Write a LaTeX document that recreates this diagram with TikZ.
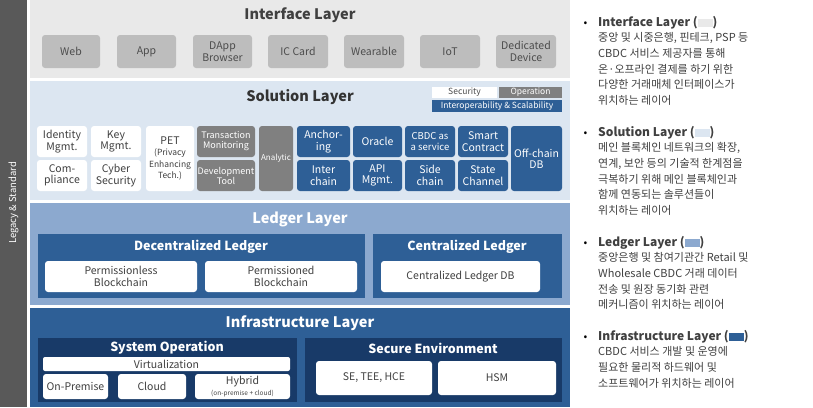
\documentclass[tikz,border=0pt]{standalone}
\usepackage{fontspec}
\setmainfont{Noto Sans CJK KR}
\begin{document}
\begin{tikzpicture}[x=1pt,y=-1pt,
  box/.style={rounded corners=3pt,inner sep=0pt,align=center,font=\fontsize{10.5}{11.5}\selectfont},
  ibtn/.style={box,fill=igray,text=black!70},
  wbtn/.style={box,fill=white,text=black!75},
  gbtn/.style={box,fill=ogray,text=white},
  bbtn/.style={box,fill=iblue,text=white},
  ttl/.style={font=\bfseries\fontsize{14.5}{15}\selectfont},
  sttl/.style={font=\bfseries\fontsize{12.5}{13}\selectfont,text=white},
  rtxt/.style={anchor=north west,align=left,inner sep=0pt,font=\fontsize{11}{15.6}\selectfont,text=black!75}]
\definecolor{igray}{HTML}{BDBDBD}
\definecolor{ibg}{HTML}{E9E9E9}
\definecolor{sbg}{HTML}{DCE6F1}
\definecolor{ogray}{HTML}{808080}
\definecolor{iblue}{HTML}{2E5F96}
\definecolor{lbg}{HTML}{8CA9CF}
\definecolor{dnavy}{HTML}{183A68}
\definecolor{lsb}{HTML}{595959}
\def\bx#1#2#3#4#5#6{\node[#1,minimum width=#4-#2,minimum height=#5-#3] (#6) at ({(#2+#4)/2},{(#3+#5)/2})}
\useasboundingbox (0,0) rectangle (813,407);
\fill[white] (0,0) rectangle (813,407);
% legacy bar
\bx{fill=lsb}{0}{0}{27}{407}{leg} {};
\node[rotate=90,text=white,font=\fontsize{9.5}{10}\selectfont] (legt) at (13.5,203) {Legacy \& Standard};
% interface
\bx{fill=ibg}{30}{0}{570}{78}{ifl} {};
\node[ttl,text=black!75] (ift) at (300,15) {Interface Layer};
\bx{ibtn}{42}{35}{100}{68}{web} {Web};
\bx{ibtn}{117}{35}{176}{68}{app} {App};
\bx{ibtn}{193}{35}{252}{68}{dapp} {DApp\\Browser};
\bx{ibtn}{268}{35}{328}{68}{ic} {IC Card};
\bx{ibtn}{344}{35}{404}{68}{wear} {Wearable};
\bx{ibtn}{420}{35}{480}{68}{iot} {IoT};
\bx{ibtn}{496}{35}{556}{68}{ded} {Dedicated\\Device};
% solution
\bx{fill=sbg}{30}{81}{570}{200}{sol} {};
\node[ttl,text=black!80] (solt) at (300,97) {Solution Layer};
\bx{fill=white,inner sep=0pt,font=\fontsize{8.5}{9}\selectfont,text=black!70}{432}{87}{497}{98}{lsec} {Security};
\bx{fill=ogray,inner sep=0pt,font=\fontsize{8.5}{9}\selectfont,text=white}{499}{87}{562}{98}{lop} {Operation};
\bx{fill=iblue,inner sep=0pt,font=\fontsize{8.5}{9}\selectfont,text=white}{432}{100}{562}{112}{lint} {Interoperability \& Scalability};
\bx{wbtn}{37}{126}{87}{157}{idm} {Identity\\Mgmt.};
\bx{wbtn}{37}{160}{87}{191}{comp} {Com-\\pliance};
\bx{wbtn}{91}{126}{141}{157}{keym} {Key\\Mgmt.};
\bx{wbtn}{91}{160}{141}{191}{cyb} {Cyber\\Security};
\bx{wbtn}{146}{126}{194}{191}{pet} {PET\\\fontsize{8.5}{9.5}\selectfont (Privacy\\\fontsize{8.5}{9.5}\selectfont Enhancing\\\fontsize{8.5}{9.5}\selectfont Tech.)};
\bx{gbtn,font=\fontsize{9}{10}\selectfont}{197}{126}{255}{157}{txm} {Transaction\\Monitoring};
\bx{gbtn,font=\fontsize{9}{10}\selectfont}{197}{160}{255}{191}{dev} {Development\\Tool};
\bx{gbtn,font=\fontsize{8}{9}\selectfont}{259}{126}{293}{191}{ana} {Analytic};
\bx{bbtn}{297}{126}{350}{157}{anc} {Anchor-\\ing};
\bx{bbtn}{297}{160}{350}{191}{inter} {Inter\\chain};
\bx{bbtn}{353}{126}{402}{157}{ora} {Oracle};
\bx{bbtn}{353}{160}{402}{191}{api} {API\\Mgmt.};
\bx{bbtn,font=\fontsize{9.5}{10.5}\selectfont}{405}{126}{455}{157}{caas} {CBDC as\\a service};
\bx{bbtn}{405}{160}{455}{191}{side} {Side\\chain};
\bx{bbtn}{458}{126}{508}{157}{sc} {Smart\\Contract};
\bx{bbtn}{458}{160}{508}{191}{stc} {State\\Channel};
\bx{bbtn}{511}{126}{562}{191}{ocdb} {Off-chain\\DB};
% ledger
\bx{fill=lbg}{30}{203}{570}{305}{led} {};
\node[ttl,text=white] (ledt) at (300,219) {Ledger Layer};
\bx{fill=iblue}{38}{234}{365}{298}{dec} {};
\node[sttl] (dect) at (201,247) {Decentralized Ledger};
\bx{wbtn}{45}{261}{197}{292}{pless} {Permissionless\\Blockchain};
\bx{wbtn}{205}{261}{357}{292}{ped} {Permissioned\\Blockchain};
\bx{fill=iblue}{373}{234}{562}{298}{cen} {};
\node[sttl] (cent) at (467,247) {Centralized Ledger};
\bx{wbtn}{381}{261}{540}{292}{cdb} {Centralized Ledger DB};
% infrastructure
\bx{fill=iblue}{30}{308}{570}{407}{inf} {};
\node[ttl,text=white] (inft) at (300,323) {Infrastructure Layer};
\bx{fill=dnavy}{38}{338}{297}{402}{sys} {};
\node[sttl] (syst) at (167,348) {System Operation};
\bx{wbtn,rounded corners=2pt}{43}{357}{290}{371}{virt} {Virtualization};
\bx{wbtn}{43}{374}{108}{399}{onp} {On-Premise};
\bx{wbtn}{118}{374}{186}{399}{cloud} {Cloud};
\bx{wbtn}{195}{374}{290}{399}{hyb} {Hybrid\\\fontsize{6.5}{7}\selectfont\itshape (on-premise + cloud)};
\bx{fill=dnavy}{305}{338}{562}{402}{sec} {};
\node[sttl] (sect) at (433,348) {Secure Environment};
\bx{wbtn}{316}{361}{432}{395}{se} {SE, TEE, HCE};
\bx{wbtn}{438}{361}{556}{395}{hsm} {HSM};
% right text
\def\sw#1{\tikz[baseline=-0.5ex]\fill[#1] (0,-4pt) rectangle (15pt,4pt);}
\node[anchor=west,font=\fontsize{11}{11}\selectfont] (b1) at (580,24) {•};
\node[rtxt] (t1) at (598,16) {\textbf{\fontsize{12}{15.6}\selectfont Interface Layer (\sw{ibg})}\\중앙 및 시중은행, 핀테크, PSP 등\\CBDC 서비스 제공자를 통해\\온·오프라인 결제를 하기 위한\\다양한 거래매체 인터페이스가\\위치하는 레이어};
\node[anchor=west,font=\fontsize{11}{11}\selectfont] (b2) at (580,134) {•};
\node[rtxt] (t2) at (598,126) {\textbf{\fontsize{12}{15.6}\selectfont Solution Layer (\sw{sbg})}\\메인 블록체인 네트워크의 확장,\\연계, 보안 등의 기술적 한계점을\\극복하기 위해 메인 블록체인과\\함께 연동되는 솔루션들이\\위치하는 레이어};
\node[anchor=west,font=\fontsize{11}{11}\selectfont] (b3) at (580,244) {•};
\node[rtxt] (t3) at (598,236) {\textbf{\fontsize{12}{15.6}\selectfont Ledger Layer (\sw{lbg})}\\중앙은행 및 참여기관간 Retail 및\\Wholesale CBDC 거래 데이터\\전송 및 원장 동기화 관련\\메커니즘이 위치하는 레이어};
\node[anchor=west,font=\fontsize{11}{11}\selectfont] (b4) at (580,338) {•};
\node[rtxt] (t4) at (598,330) {\textbf{\fontsize{12}{15.6}\selectfont Infrastructure Layer (\sw{iblue})}\\CBDC 서비스 개발 및 운영에\\필요한 물리적 하드웨어 및\\소프트웨어가 위치하는 레이어};
\end{tikzpicture}
\end{document}
